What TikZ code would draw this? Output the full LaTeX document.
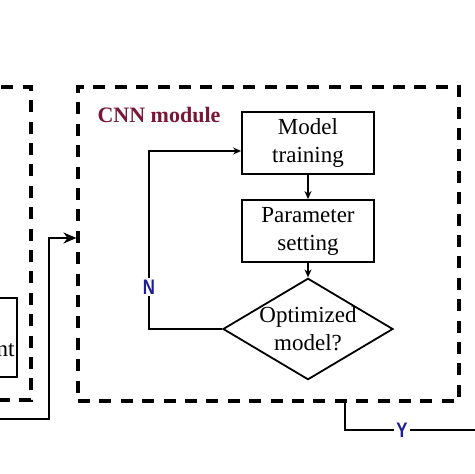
\documentclass[tikz,border=0pt]{standalone}
\usepackage{fontspec}
\setmainfont{Liberation Serif}
\newfontfamily\yesnofont[FakeStretch=0.8]{Liberation Sans}
\usetikzlibrary{arrows.meta,shapes.geometric}

\definecolor{cnnred}{RGB}{122,22,54}
\definecolor{ynblue}{RGB}{30,30,150}

\tikzset{
  stepbox/.style={draw,line width=0.9pt,minimum width=66pt,minimum height=31pt,
    align=center,font=\fontsize{11.5}{14}\selectfont},
  decision/.style={draw,diamond,line width=0.9pt,minimum width=85pt,minimum height=45pt,
    inner sep=-5pt,align=center,font=\fontsize{11.5}{14}\selectfont},
  modbox/.style={draw,line width=1.6pt,dash pattern=on 6pt off 4.7pt},
  link/.style={line width=0.9pt},
  smallarr/.style={link,-{Stealth[length=4pt,width=3.5pt]}},
  bigarr/.style={link,-{Stealth[length=6.5pt,width=5.5pt]}},
  yesno/.style={fill=white,inner sep=1pt,text=ynblue,font=\yesnofont\bfseries\fontsize{10.5}{12}\selectfont}
}

\begin{document}
\begin{tikzpicture}[x=0.5pt,y=-0.5pt]
   \useasboundingbox (0,0) rectangle (474,474);

   % left module (cut by the page)
   \draw[modbox] (-20,87) -- (31,87) -- (31,400) -- (-20,400);
   \node (prev) [draw,line width=0.9pt,minimum width=30pt,minimum height=39.5pt,anchor=east] at (18,337.5) {};
   \node (prevtxt) [anchor=east,inner sep=0pt,font=\fontsize{11.5}{14}\selectfont] at (15,350) {nt};

   % CNN module
   \node (cnn) [modbox,minimum width=190.5pt,minimum height=157pt] at (268.5,244) {};
   \node (cnnlabel) [text=cnnred,font=\bfseries\fontsize{11}{13}\selectfont] at (159,115) {CNN module};

   \node (mt) [stepbox] at (308,143) {Model\\training};
   \node (ps) [stepbox] at (308,231) {Parameter\\setting};
   \node (opt) [decision] at (308,329) {Optimized\\model?};

   \draw[smallarr] (mt) -- (ps);
   \draw[smallarr] (ps) -- (opt);

   % N loop
   \coordinate (nl) at (149,151);
   \draw[smallarr] (opt.west) -| (nl) -- (mt.west |- nl);
   \node (no) [yesno] at (149,287) {N};

   % Y exit
   \coordinate (yc) at (345,430);
   \coordinate (yend) at (490,430);
   \draw[link] (cnn.south -| yc) -- (yc) -- (yend);
   \node (yes) [yesno] at (402,430) {Y};

   % input from the left module
   \coordinate (in1) at (-20,419);
   \coordinate (in2) at (49,238);
   \draw[bigarr] (in1) -| (in2) -- (cnn.west |- in2);
\end{tikzpicture}
\end{document}
